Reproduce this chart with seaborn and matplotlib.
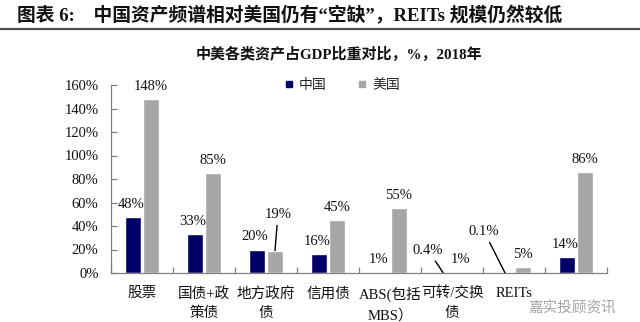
import matplotlib
matplotlib.use('Agg')
import matplotlib.pyplot as plt
from matplotlib.lines import Line2D
import seaborn as sns
import pandas as pd
import numpy as np

# ---- data ----
categories = ['股票', '国债+政\n策债', '地方政府\n债', '信用债', 'ABS(包括\nMBS）', '可转/交换\n债', 'REITs', ' ']
series_names = ['中国', '美国']
china = [48, 33, 20, 16, 1, 0.4, 0.1, 14]
usa = [148, 85, 19, 45, 55, 1, 5, 86]
china_labels = ['48%', '33%', '20%', '16%', '1%', '0.4%', '0.1%', '14%']
usa_labels = ['148%', '85%', '19%', '45%', '55%', '1%', '5%', '86%']
yticks = [0, 20, 40, 60, 80, 100, 120, 140, 160]
colors = ['#000066', '#a6a6a6']

title = '图表 6:\u3000中国资产频谱相对美国仍有“空缺”，REITs 规模仍然较低'
subtitle = '中美各类资产占GDP比重对比，%，2018年'
watermark = '嘉实投顾资讯'

sns.set_theme(style='white')
FAM = ['Liberation Serif', 'Noto Sans CJK SC']
plt.rcParams['font.family'] = FAM

df = pd.DataFrame({
    'cat': categories * 2,
    'series': [series_names[0]] * len(categories) + [series_names[1]] * len(categories),
    'value': china + usa,
})

fig = plt.figure(figsize=(6.4, 3.22), dpi=100)
fig.patch.set_facecolor('white')
ax = fig.add_axes([111 / 640, 1 - 273 / 322, 496 / 640, (273 - 85) / 322])

sns.barplot(data=df, x='cat', y='value', hue='series', order=categories,
            hue_order=series_names, palette=colors, width=0.58, gap=0.06,
            saturation=1, legend=False, ax=ax)

ax.set_xlim(-0.5, len(categories) - 0.5)
ax.set_ylim(0, 160)
ax.set_yticks(yticks)
ax.set_yticklabels([f'{v}%' for v in yticks])
ax.set_xlabel('')
ax.set_ylabel('')

for s in ['top', 'right']:
    ax.spines[s].set_visible(False)
for s in ['left', 'bottom']:
    ax.spines[s].set_color('#808080')
    ax.spines[s].set_linewidth(0.9)

ax.tick_params(axis='y', direction='in', length=4, color='#808080', width=0.9,
               labelsize=10.5, pad=9, left=True, labelcolor='#111111')
ax.set_xticks(np.arange(-0.5, len(categories), 1), minor=True)
ax.tick_params(axis='x', which='minor', direction='in', length=4, color='#808080', width=0.9, bottom=True)
ax.tick_params(axis='x', which='major', length=0, labelsize=10.5, pad=10, labelcolor='#111111')
for lbl in ax.get_xticklabels():
    lbl.set_linespacing(1.6)

# ---- data labels ----
special = {
    (1, 2): (3, 30),     # US 19%
    (0, 5): (-15, 16),   # China 0.4%
    (0, 6): (-21, 35),   # China 0.1%
}
label_sets = [china_labels, usa_labels]
for si, cont in enumerate(ax.containers[:2]):
    for i, bar in enumerate(cont):
        x = bar.get_x() + bar.get_width() / 2
        h = bar.get_height()
        txt = label_sets[si][i]
        if (si, i) in special:
            dx, dy = special[(si, i)]
            ax.annotate(txt, (x, h), xytext=(dx, dy), textcoords='offset pixels',
                        ha='center', va='bottom', fontsize=10.5, color='#111111',
                        arrowprops=dict(arrowstyle='-', color='black', lw=1.0,
                                        shrinkA=1, shrinkB=0))
        else:
            ax.annotate(txt, (x, h), xytext=(-2 if si == 0 else 0, 6), textcoords='offset pixels',
                        ha='center', va='bottom', fontsize=10.5, color='#111111')

# ---- legend ----
handles = [Line2D([0], [0], marker='s', linestyle='', markersize=4.5,
                  markerfacecolor=c, markeredgecolor=c) for c in colors]
ax.legend(handles, series_names, loc='center', bbox_to_anchor=(0.465, 1.0), ncol=2,
          frameon=False, handlelength=0.8, handletextpad=0.3, columnspacing=2.2,
          prop={'family': ['Noto Sans CJK SC'], 'size': 10})

# ---- title / header ----
fig.text(17 / 640, 1 - 16 / 322, title, fontsize=13.5, fontweight='bold',
         va='center', ha='left', color='#111111')
fig.add_artist(Line2D([0, 1], [1 - 28.5 / 322] * 2, color='#505050', lw=1.6))
fig.text(339 / 640, 1 - 54 / 322, subtitle, fontsize=10.8, fontweight='bold',
         va='center', ha='center', color='#111111')

# watermark
fig.text(528 / 640, 1 - 308 / 322, watermark, fontsize=10.5, color='#9a9a9a',
         va='center', ha='left', family=['Noto Sans CJK SC'], alpha=0.9)

fig.savefig('out.png', dpi=100, facecolor='white')
